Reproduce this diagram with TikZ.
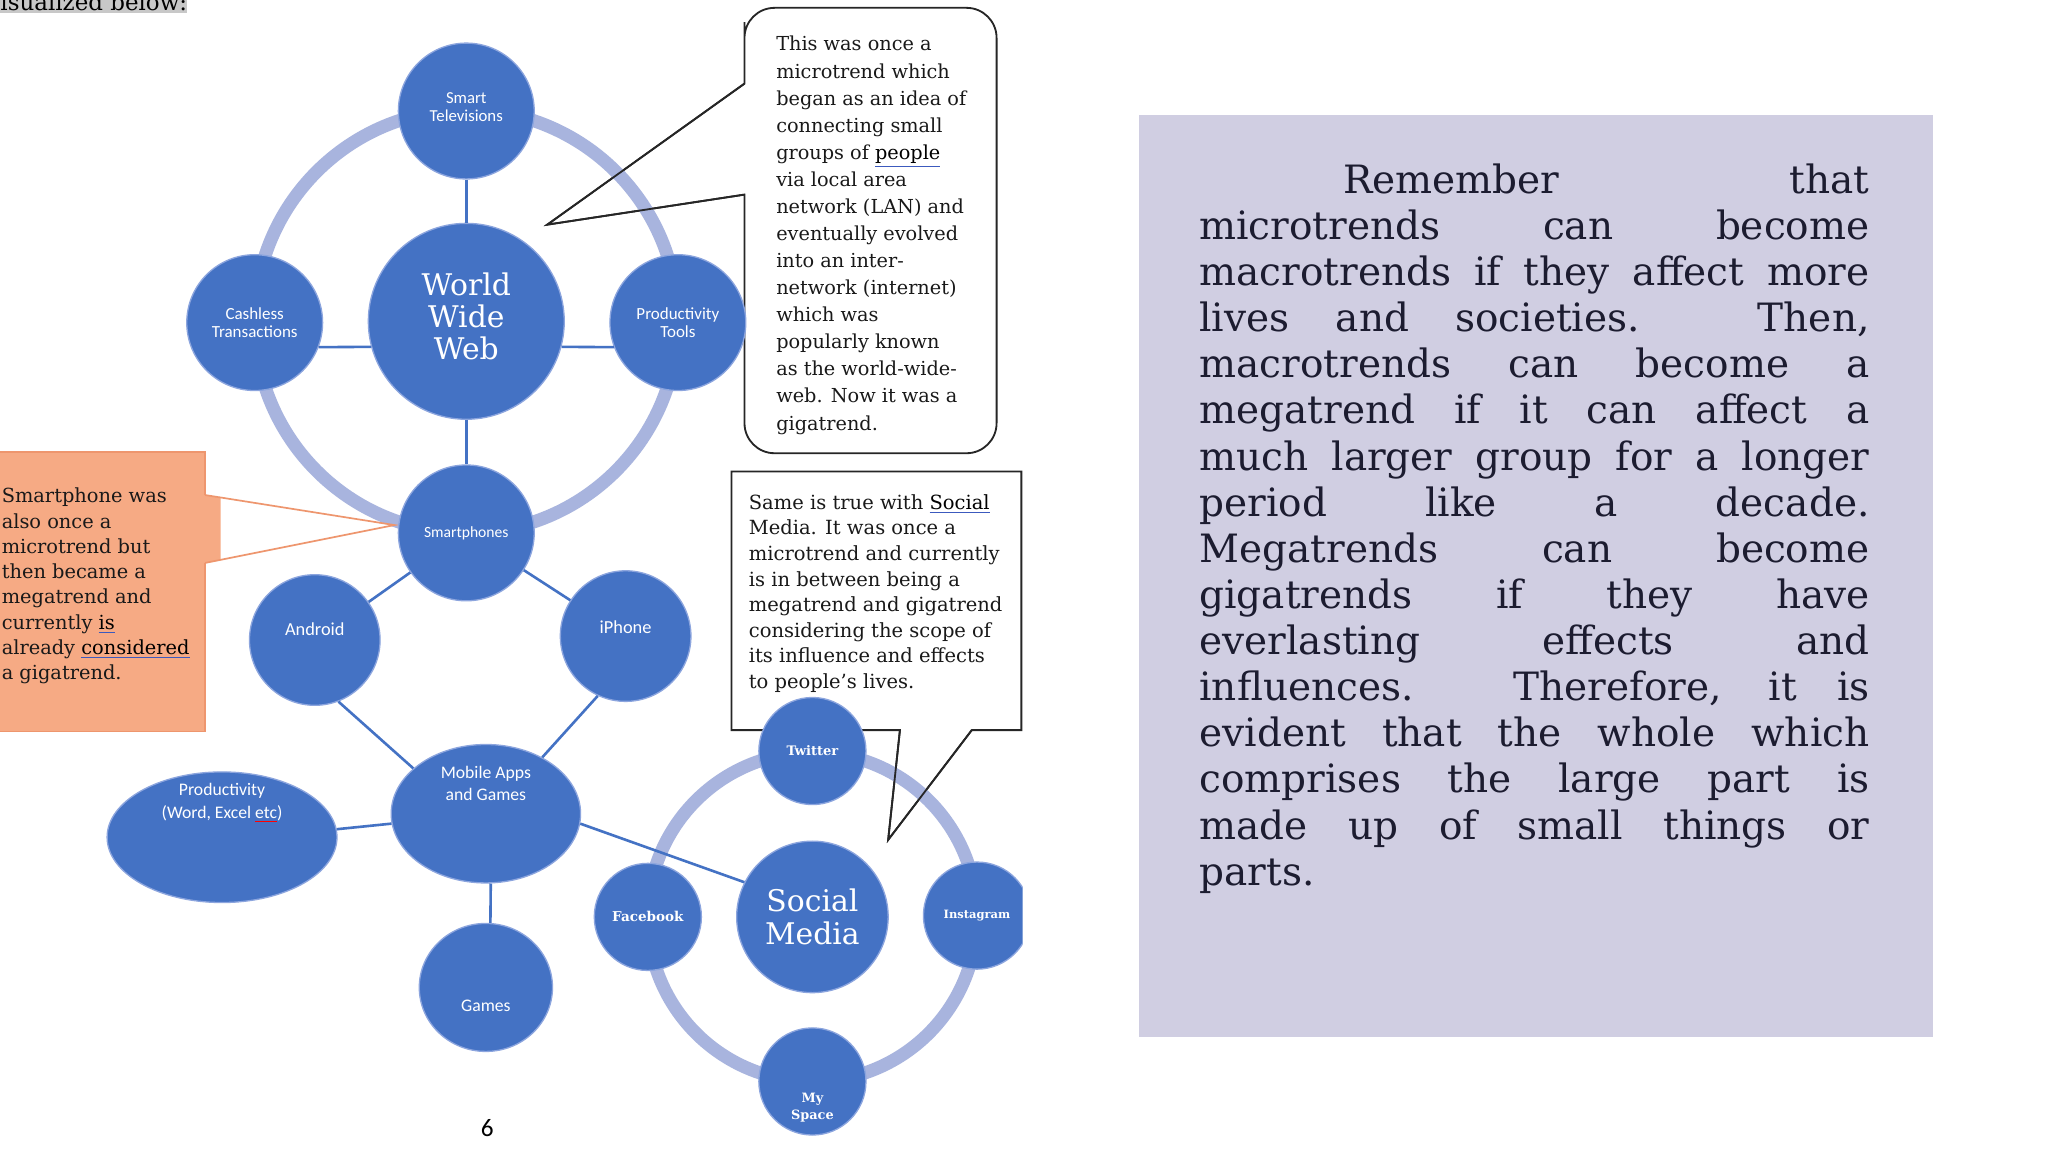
\documentclass[tikz,border=0pt]{standalone}
\usepackage{fontspec}
\setmainfont{DejaVu Serif}
\newfontfamily\calfont{Carlito}
\usetikzlibrary{shapes.geometric, calc}
\definecolor{bubblue}{RGB}{68,114,196}
\definecolor{bubedge}{RGB}{140,165,222}
\definecolor{ringblue}{RGB}{168,180,222}
\definecolor{panelgray}{RGB}{208,206,226}
\definecolor{salmon}{RGB}{246,170,132}
\definecolor{salmonedge}{RGB}{238,150,110}
\definecolor{hlgray}{RGB}{200,200,200}
\definecolor{inkblue}{RGB}{28,28,48}
\definecolor{linkblue}{RGB}{60,90,190}
\newlength\px
\setlength\px{0.02cm}
\newcommand\linkword[1]{{\color{linkblue}\underline{\color{black}#1}}}
\newcommand\redword[1]{{\color{red}\underline{\color{white}#1}}}
\newcommand\jline[1]{\makebox[\linewidth][s]{#1}\par}
\tikzset{
  bub/.style={circle, fill=bubblue, draw=bubedge, line width=1\px, inner sep=0pt, text=white, align=center},
  oval/.style={ellipse, fill=bubblue, draw=bubedge, line width=1\px, inner sep=0pt},
  lbl/.style={text=white, align=center, inner sep=0pt, font=\calfont\fontsize{7.7}{9.7}\selectfont},
  soclbl/.style={text=white, align=center, inner sep=0pt, font=\bfseries\fontsize{5.6}{7.4}\selectfont},
  ring/.style={draw=ringblue, line width=10\px},
  link/.style={draw=bubblue, line width=2\px},
  note/.style={draw=black!85, line width=1.4\px},
  notetext/.style={anchor=base west, inner sep=0pt, text=black!90, font=\fontsize{8.4}{11.8}\selectfont}
}
\begin{document}
\begin{tikzpicture}[x=0.02cm, y=-0.02cm]
\path[fill=white, use as bounding box] (0,0) rectangle (1568,882);

% summary panel
\fill[panelgray] (872,88) rectangle (1480,794);
\node[anchor=base west, inner sep=0pt, text=inkblue] (summary) at (918,148) {\parbox[t]{513\px}{\fontsize{17}{20.1}\selectfont
\jline{\hspace*{110\px}Remember that}
\jline{microtrends can become}
\jline{macrotrends if they affect more}
\jline{lives and societies. Then,}
\jline{macrotrends can become a}
\jline{megatrend if it can affect a}
\jline{much larger group for a longer}
\jline{period like a decade.}
\jline{Megatrends can become}
\jline{gigatrends if they have}
\jline{everlasting effects and}
\jline{influences. Therefore, it is}
\jline{evident that the whole which}
\jline{comprises the large part is}
\jline{made up of small things or}
parts.}};

\node[anchor=base west, fill=hlgray, inner xsep=0pt, inner ysep=2\px, font=\fontsize{10}{11}\selectfont] (intro) at (0,8) {isualized below:};

% smartphone note
\fill[salmon] (0,346) rectangle (157,560);
\fill[salmon] (157,379) -- (169,381) -- (169,429) -- (157,431) -- cycle;
\draw[salmonedge, line width=1.2\px] (157,379) -- (157,346) -- (-2,346) -- (-2,560) -- (157,560) -- (157,431);
\node[notetext, font=\fontsize{8.45}{11}\selectfont] (phonetxt) at (1,385) {\parbox[t]{155\px}{Smartphone was\\also once a\\microtrend but\\then became a\\megatrend and\\currently \linkword{is}\\already \linkword{considered}\\a gigatrend.}};

% web note
\draw[note, fill=white] (570,149) -- (570,200) [rounded corners=23\px] -- (570,347) -- (763,347) -- (763,6) -- (570,6) -- (570,40) [sharp corners] -- (570,64) -- (419,172) -- cycle;
\node[notetext] (webtxt) at (594,39) {\parbox[t]{170\px}{This was once a\\microtrend which\\began as an idea of\\connecting small\\groups of \linkword{people}\\via local area\\network (LAN) and\\eventually evolved\\into an inter-\\network (internet)\\which was\\popularly known\\as the world-wide-\\web. Now it was a\\gigatrend.}};

% social note
\draw[note, fill=white] (689,559) -- (560,559) -- (560,361) -- (782,361) -- (782,559) -- (744,559) -- (680,643) -- cycle;
\node[notetext, font=\fontsize{8.5}{11.15}\selectfont] (socialtxt) at (573,390) {\parbox[t]{209\px}{Same is true with \linkword{Social}\\Media. It was once a\\microtrend and currently\\is in between being a\\megatrend and gigatrend\\considering the scope of\\its influence and effects\\to people’s lives.}};

% rings
\draw[ring] (357,246) circle[radius=162];
\draw[ring] (622,702) circle[radius=126];

\draw[note] (570,64) -- (419,172) -- (570,149);
\draw[note] (689,559) -- (680,643) -- (744,559);
\draw[salmonedge, line width=1.3\px] (157,379) -- (302,402) -- (157,431);

% bubbles
\node[bub, minimum size=104\px] (tv) at (357,85) {};
\node[lbl, font=\calfont\fontsize{7.3}{7.6}\selectfont] (tvl) at ($(tv)+(0,-3)$) {Smart\\Televisions};
\node[bub, minimum size=150\px] (www) at (357,246) {};
\node[lbl, font=\fontsize{13}{13.9}\selectfont] (wwwl) at ($(www)+(0,-4)$) {World\\Wide\\Web};
\node[bub, minimum size=104\px, font=\calfont\fontsize{7.4}{8}\selectfont] (cash) at (195,247) {Cashless\\Transactions};
\node[bub, minimum size=104\px, font=\calfont\fontsize{7.4}{8}\selectfont] (tools) at (519,247) {Productivity\\Tools};
\node[bub, minimum size=104\px, font=\calfont\fontsize{6.8}{8}\selectfont] (phones) at (357,408) {Smartphones};
\node[bub, minimum size=100\px] (android) at (241,490) {};
\node[lbl, font=\calfont\fontsize{8}{9}\selectfont] (androidl) at ($(android)+(0,-8)$) {Android};
\node[bub, minimum size=100\px] (iphone) at (479,487) {};
\node[lbl, font=\calfont\fontsize{8}{9}\selectfont] (iphonel) at ($(iphone)+(0,-7)$) {iPhone};
\node[oval, minimum width=145\px, minimum height=106\px] (apps) at (372,623) {};
\node[lbl] (appsl) at ($(apps)+(0,-23)$) {Mobile Apps\\and Games};
\node[oval, minimum width=176\px, minimum height=100\px] (office) at (170,641) {};
\node[lbl] (officel) at ($(office)+(0,-26)$) {Productivity\\(Word, Excel \redword{etc})};
\node[oval, minimum width=102\px, minimum height=98\px] (games) at (372,756) {};
\node[lbl] (gamesl) at ($(games)+(0,14)$) {Games};
\node[bub, minimum size=116\px, font=\fontsize{13}{14.2}\selectfont] (social) at (622,702) {Social\\Media};
\node[bub, minimum size=82\px, font=\bfseries\fontsize{5.7}{7}\selectfont] (twitter) at (622,575) {Twitter};
\node[bub, minimum size=82\px, font=\bfseries\fontsize{5.9}{7}\selectfont] (facebook) at (496,702) {Facebook};
\begin{scope}
\clip (0,0) rectangle (783,882);
\node[bub, minimum size=82\px, font=\bfseries\fontsize{5}{7}\selectfont] (instagram) at (748,701) {Instagram};
\end{scope}
\node[bub, minimum size=82\px] (myspace) at (622,828) {};
\node[soclbl] (myspacel) at ($(myspace)+(0,20)$) {My\\Space};

% links
\draw[link] (tv) -- (www);
\draw[link] (www) -- (phones);
\draw[link] (cash.-21) -- (www.195);
\draw[link] (www.-15) -- (tools.201);
\draw[link] (phones) -- (android);
\draw[link] (phones) -- (iphone);
\draw[link] (android.-69) -- (apps.148);
\draw[link] (iphone.-115) -- (apps.45);
\draw[link] (office.4) -- (apps.186);
\draw[link] (apps.-86) -- (games.86);
\draw[link] (apps.-6) -- (social.153);

\node[font=\calfont\fontsize{11}{12}\selectfont] (page) at (373,864) {6};
\end{tikzpicture}
\end{document}
